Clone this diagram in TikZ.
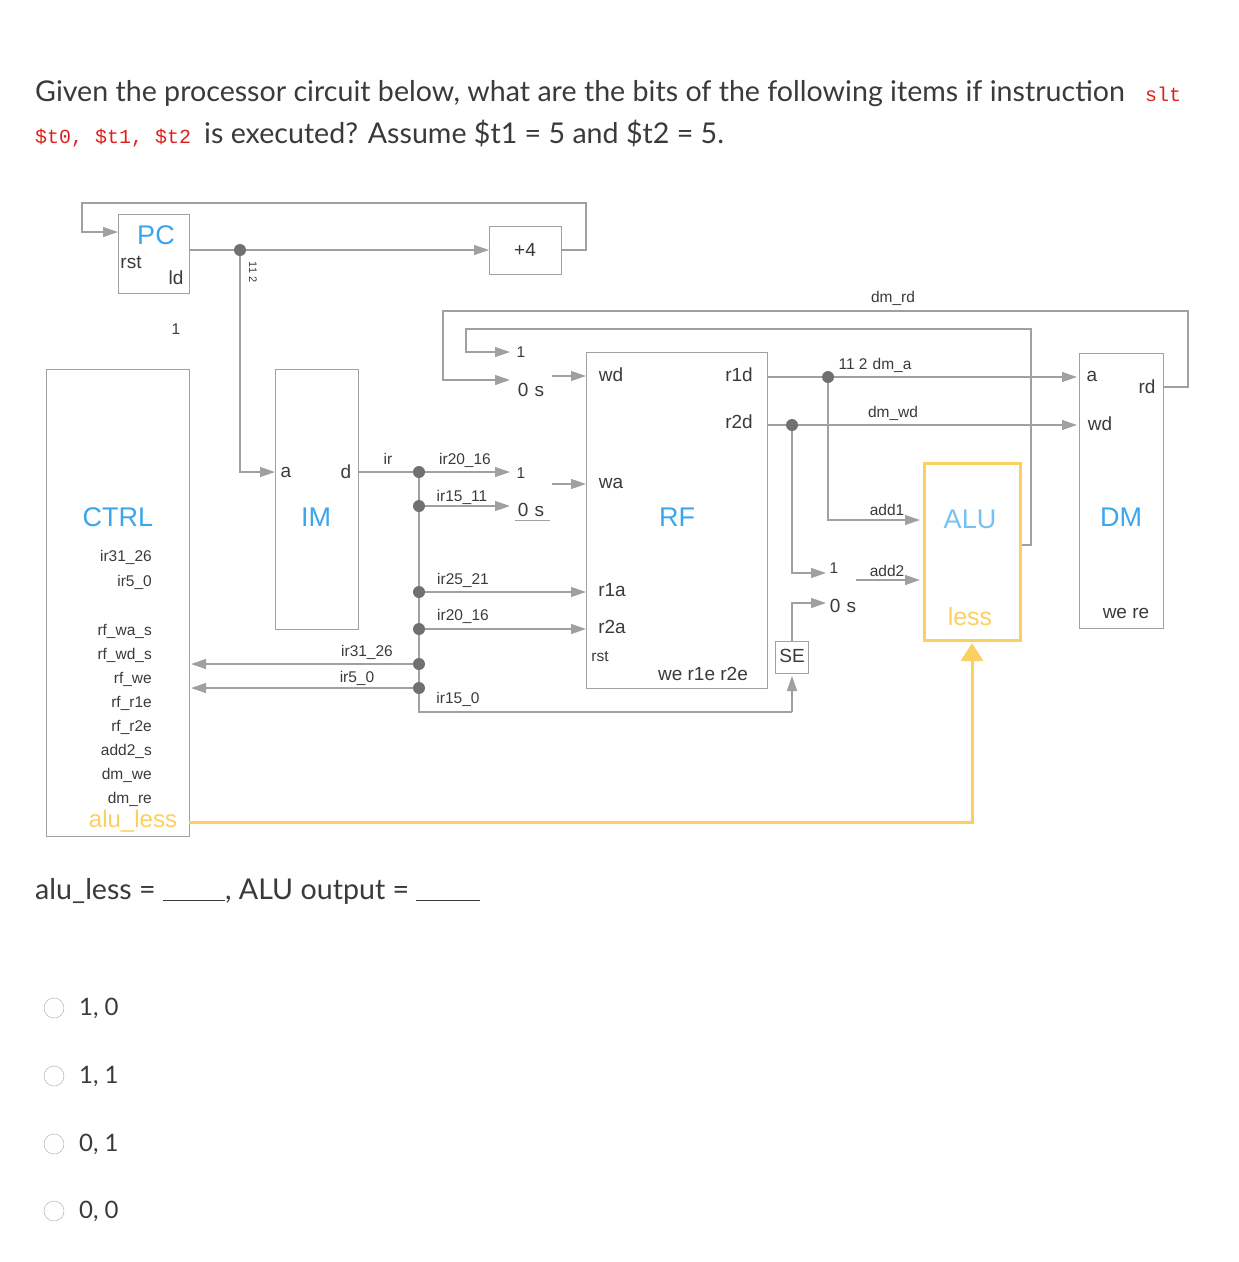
\documentclass[tikz,border=0pt]{standalone}
\usepackage{fontspec}
\setmainfont{Lato}
\newfontfamily\dg{Liberation Sans}
\newfontfamily\cd{Liberation Mono}
\usetikzlibrary{arrows.meta}
\definecolor{wire}{HTML}{A0A0A0}
\definecolor{dotc}{HTML}{707070}
\definecolor{bl}{HTML}{3AA6EE}
\definecolor{yl}{HTML}{FBCF60}
\definecolor{cr}{HTML}{E0201B}
\definecolor{tx}{HTML}{3A3A3A}
\tikzset{
 w/.style={draw=wire,line width=1.3pt},
 a/.style={w,-{Triangle[length=15pt,width=10pt]},shorten >=0pt},
 box/.style={draw=wire,line width=1pt},
 lb/.style={font=\dg\fontsize{19}{19}\selectfont,text=tx,inner sep=0pt},
 sm/.style={font=\dg\fontsize{15.5}{15.5}\selectfont,text=tx,inner sep=0pt},
 bt/.style={font=\dg\fontsize{27}{27}\selectfont,text=bl,inner sep=0pt},
 q/.style={font=\fontsize{28.6}{28.6}\selectfont,text=tx,inner sep=0pt,anchor=base west},
 opt/.style={circle,draw=gray!70,minimum size=20pt,inner sep=0pt},
}
\begin{document}
\begin{tikzpicture}[x=1pt,y=-1pt]
\useasboundingbox (0,0) rectangle (1239,1262);
% question
\node[q] (q1) at (35,101) {Given the processor circuit below, what are the bits of the following items if instruction};
\node[q,font=\cd\fontsize{20}{20}\selectfont,text=cr] (q2) at (1145,101) {slt};
\node[q,font=\cd\fontsize{20}{20}\selectfont,text=cr] (q3) at (35,143) {\$t0, \$t1, \$t2};
\node[q] (q4) at (204,143) {is executed? Assume \$t1 = 5 and \$t2 = 5.};
% junctions
\coordinate (d1) at (240,250);
\coordinate (b1) at (419,472);
\coordinate (b2) at (419,506);
\coordinate (b3) at (419,592);
\coordinate (b4) at (419,629);
\coordinate (b5) at (419,664);
\coordinate (b6) at (419,688);
\coordinate (d2) at (828,377);
\coordinate (d3) at (792,425);
% boxes
\draw[box] (118,214) rectangle (189,293);
\node[bt] (pc) at (156,235) {PC};
\node[lb] (pcrst) at (131,262) {rst};
\node[lb] (pcld) at (176,278) {ld};
\node[sm] (one) at (176,329) {1};
\draw[box] (489,226) rectangle (561,274);
\node[lb] (p4) at (525,250) {+4};
\coordinate (pcin) at (118,232);
\coordinate (pcout) at (189,250);
\coordinate (p4in) at (489,250);
\coordinate (p4out) at (561,250);
\draw[a] (p4out) -- (586,250) -- (586,203) -- (82,203) -- (82,232) -- (pcin);
\draw[a] (pcout) -- (p4in);
\node[sm,rotate=-90,font=\dg\fontsize{11}{11}\selectfont] (l112) at (253,272) {11 2};
% IM
\draw[box] (275,369) rectangle (358,629);
\node[lb] (ima) at (286,472) {a};
\node[lb] (imd) at (346,472) {d};
\node[bt] (im) at (316,517) {IM};
\draw[a] (d1) -- (240,472) -- (275,472);
% CTRL
\draw[box] (46,369) rectangle (189,836);
\node[bt] (ctrl) at (118,517) {CTRL};
\foreach \t/\y in {ir31\_26/557,ir5\_0/582,rf\_wa\_s/631,rf\_wd\_s/655,rf\_we/679,rf\_r1e/703,rf\_r2e/727,add2\_s/751,dm\_we/775,dm\_re/799}
  \node[sm,anchor=east] at (152,\y) {\t};
\node[font=\dg\fontsize{24}{24}\selectfont,text=yl,inner sep=0pt] (alul) at (133,821) {alu\_less};
% ir bus
\node[sm] (ir) at (388,459) {ir};
\draw[w] (358,472) -- (b1) -- (419,712) -- (792,712);
\draw[a] (792,712) -- (792,676);
\node[sm] at (458,699) {ir15\_0};
\draw[a] (b1) -- (510,472); \node[sm] at (465,460) {ir20\_16};
\draw[a] (b2) -- (510,506); \node[sm] at (462,497) {ir15\_11};
\draw[a] (b3) -- (586,592); \node[sm] at (463,580) {ir25\_21};
\draw[a] (b4) -- (586,629); \node[sm] at (463,616) {ir20\_16};
\draw[a] (b5) -- (191,664); \node[sm] at (367,652) {ir31\_26};
\draw[a] (b6) -- (191,688); \node[sm] at (357,678) {ir5\_0};
% muxes
\node[sm] (m1a) at (521,352) {1};
\node[lb] (m1b) at (531,390) {0\,\,s};
\draw[a] (552,376) -- (586,376);
\node[sm] (m2a) at (521,473) {1};
\node[lb] (m2b) at (531,510) {0\,\,s};
\draw[w,line width=0.8pt] (515,520) -- (550,520);
\draw[a] (552,484) -- (586,484);
\draw[a] (1021,545) -- (1031,545) -- (1031,329) -- (466,329) -- (466,352) -- (510,352);
\draw[a] (1163,387) -- (1188,387) -- (1188,311) -- (443,311) -- (443,380) -- (510,380);
\node[sm] at (893,298) {dm\_rd};
% RF
\draw[box] (586,352) rectangle (767,688);
\node[lb] at (611,375) {wd};
\node[lb] at (739,375) {r1d};
\node[lb] at (739,422) {r2d};
\node[lb] at (611,483) {wa};
\node[bt] (rf) at (677,517) {RF};
\node[lb] at (612,590) {r1a};
\node[lb] at (612,627) {r2a};
\node[sm] at (600,657) {rst};
\node[lb] at (703,674) {we r1e r2e};
% r1d / r2d
\draw[a] (767,377) -- (1077,377);
\draw[a] (767,425) -- (1077,425);
\node[sm] at (875,365) {11 2\,\,dm\_a};
\node[sm] at (893,413) {dm\_wd};
\draw[a] (d2) -- (828,520) -- (920,520); \node[sm] at (887,510) {add1};
\draw[a] (d3) -- (792,573) -- (826,573);
\draw[box] (775,641) rectangle (808,673);
\node[lb] (se) at (792,656) {SE};
\draw[a] (792,641) -- (792,603) -- (826,603);
\node[sm] (m3a) at (834,568) {1};
\node[lb] (m3b) at (843,606) {0\,\,s};
\draw[a] (856,580) -- (920,580); \node[sm] at (887,571) {add2};
% ALU
\draw[draw=yl,line width=3pt] (924,463) rectangle (1020,640);
\node[bt,text=bl!70] (alu) at (970,519) {ALU};
\node[font=\dg\fontsize{25}{25}\selectfont,text=yl,inner sep=0pt] (less) at (970,617) {less};
\draw[draw=yl,line width=3pt,-{Triangle[length=18pt,width=22pt]}] (189,822) -- (972,822) -- (972,643);
% DM
\draw[box] (1079,353) rectangle (1163,628);
\node[lb] at (1092,376) {a};
\node[lb] at (1147,387) {rd};
\node[lb] at (1100,424) {wd};
\node[bt] (dm) at (1121,517) {DM};
\node[lb] at (1126,613) {we re};
% dots
\foreach \p in {d1,b1,b2,b3,b4,b5,b6,d2,d3} \fill[dotc] (\p) circle (6pt);
% answer
\node[q] (ans) at (35,899) {alu\_less = \underline{\hspace{62pt}}, ALU output = \underline{\hspace{64pt}}};
\foreach \y/\t in {1008/{1, 0},1076/{1, 1},1144/{0, 1},1211/{0, 0}}{
  \node[opt] at (54,\y) {};
  \node[q,anchor=west,font=\fontsize{24}{24}\selectfont] at (79,\y) {\t};
}
\end{tikzpicture}
\end{document}
